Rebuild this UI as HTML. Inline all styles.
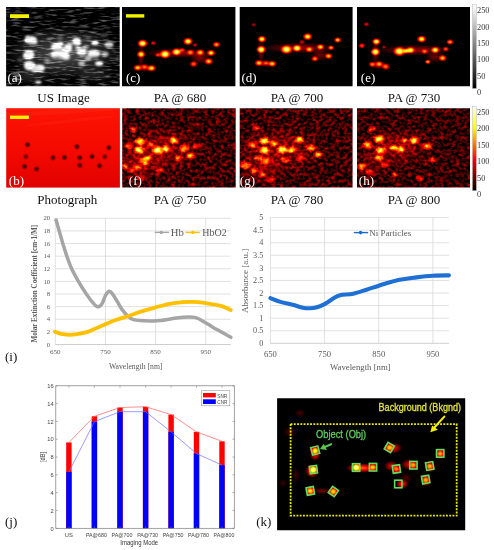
<!DOCTYPE html><html><head><meta charset="utf-8"><style>html,body{margin:0;padding:0;background:#fff;width:494px;height:550px;overflow:hidden;position:relative}</style></head><body><svg width="494" height="550" viewBox="0 0 494 550" style="position:absolute;left:0;top:0">
<defs>
<filter id="hotc" x="0" y="0" width="100%" height="100%" color-interpolation-filters="sRGB">
<feGaussianBlur in="SourceGraphic" stdDeviation="0.7" result="bl"/>
<feComponentTransfer><feFuncR type="table" tableValues="0 0.333 0.667 1 1 1 1 1 1"/><feFuncG type="table" tableValues="0 0 0 0 0.333 0.667 1 1 1"/><feFuncB type="table" tableValues="0 0 0 0 0 0 0 0.5 1"/><feFuncA type="linear" slope="0" intercept="1"/></feComponentTransfer>
</filter>
<filter id="hotk" x="0" y="0" width="100%" height="100%" color-interpolation-filters="sRGB">
<feGaussianBlur in="SourceGraphic" stdDeviation="0.7" result="bl"/>
<feComponentTransfer><feFuncR type="table" tableValues="0 0.333 0.667 1 1 1 1 1 1"/><feFuncG type="table" tableValues="0 0 0 0 0.333 0.667 1 1 1"/><feFuncB type="table" tableValues="0 0 0 0 0 0 0 0.5 1"/><feFuncA type="linear" slope="0" intercept="1"/></feComponentTransfer>
</filter>
<filter id="hotf" x="0" y="0" width="100%" height="100%" color-interpolation-filters="sRGB">
<feGaussianBlur in="SourceGraphic" stdDeviation="0.7" result="bl"/>
<feTurbulence type="fractalNoise" baseFrequency="0.25 0.3" numOctaves="2" seed="3" result="tn0"/>
<feGaussianBlur in="tn0" stdDeviation="0.5" result="tn"/>
<feColorMatrix in="tn" type="matrix" values="0.62 0 0 0 -0.225  0.62 0 0 0 -0.225  0.62 0 0 0 -0.225  0 0 0 0 1" result="nz"/>
<feComposite in="bl" in2="nz" operator="arithmetic" k2="1" k3="1" result="bl"/>
<feComponentTransfer><feFuncR type="table" tableValues="0 0.333 0.667 1 1 1 1 1 1"/><feFuncG type="table" tableValues="0 0 0 0 0.333 0.667 1 1 1"/><feFuncB type="table" tableValues="0 0 0 0 0 0 0 0.5 1"/><feFuncA type="linear" slope="0" intercept="1"/></feComponentTransfer>
</filter>
<filter id="hotg" x="0" y="0" width="100%" height="100%" color-interpolation-filters="sRGB">
<feGaussianBlur in="SourceGraphic" stdDeviation="0.7" result="bl"/>
<feTurbulence type="fractalNoise" baseFrequency="0.25 0.3" numOctaves="2" seed="5" result="tn0"/>
<feGaussianBlur in="tn0" stdDeviation="0.5" result="tn"/>
<feColorMatrix in="tn" type="matrix" values="0.62 0 0 0 -0.225  0.62 0 0 0 -0.225  0.62 0 0 0 -0.225  0 0 0 0 1" result="nz"/>
<feComposite in="bl" in2="nz" operator="arithmetic" k2="1" k3="1" result="bl"/>
<feComponentTransfer><feFuncR type="table" tableValues="0 0.333 0.667 1 1 1 1 1 1"/><feFuncG type="table" tableValues="0 0 0 0 0.333 0.667 1 1 1"/><feFuncB type="table" tableValues="0 0 0 0 0 0 0 0.5 1"/><feFuncA type="linear" slope="0" intercept="1"/></feComponentTransfer>
</filter>
<filter id="hoth" x="0" y="0" width="100%" height="100%" color-interpolation-filters="sRGB">
<feGaussianBlur in="SourceGraphic" stdDeviation="0.7" result="bl"/>
<feTurbulence type="fractalNoise" baseFrequency="0.25 0.3" numOctaves="2" seed="7" result="tn0"/>
<feGaussianBlur in="tn0" stdDeviation="0.5" result="tn"/>
<feColorMatrix in="tn" type="matrix" values="0.62 0 0 0 -0.235  0.62 0 0 0 -0.235  0.62 0 0 0 -0.235  0 0 0 0 1" result="nz"/>
<feComposite in="bl" in2="nz" operator="arithmetic" k2="1" k3="1" result="bl"/>
<feComponentTransfer><feFuncR type="table" tableValues="0 0.333 0.667 1 1 1 1 1 1"/><feFuncG type="table" tableValues="0 0 0 0 0.333 0.667 1 1 1"/><feFuncB type="table" tableValues="0 0 0 0 0 0 0 0.5 1"/><feFuncA type="linear" slope="0" intercept="1"/></feComponentTransfer>
</filter>
<filter id="usf" x="0" y="0" width="100%" height="100%" color-interpolation-filters="sRGB">
<feGaussianBlur in="SourceGraphic" stdDeviation="1.0" result="bl"/>
<feTurbulence type="fractalNoise" baseFrequency="0.09 0.42" numOctaves="2" seed="11" result="tn"/>
<feColorMatrix in="tn" type="matrix" values="1.2 0 0 0 -0.6  1.2 0 0 0 -0.6  1.2 0 0 0 -0.6  0 0 0 0 1" result="nz"/>
<feComposite in="bl" in2="nz" operator="arithmetic" k2="1" k3="1"/>
<feComponentTransfer><feFuncA type="linear" slope="0" intercept="1"/></feComponentTransfer>
</filter>
<filter id="blur1" x="-50%" y="-50%" width="200%" height="200%"><feGaussianBlur stdDeviation="0.9"/></filter>
<linearGradient id="gcb" x1="0" y1="0" x2="0" y2="1"><stop offset="0" stop-color="#fff"/><stop offset="1" stop-color="#000"/></linearGradient>
<linearGradient id="hcb" x1="0" y1="1" x2="0" y2="0"><stop offset="0" stop-color="#000"/><stop offset="0.375" stop-color="#f00"/><stop offset="0.75" stop-color="#ff0"/><stop offset="1" stop-color="#fff"/></linearGradient>
<linearGradient id="photo" x1="0" y1="0" x2="0" y2="1"><stop offset="0" stop-color="#fc1404"/><stop offset="0.5" stop-color="#f50a00"/><stop offset="1" stop-color="#e00200"/></linearGradient>
<radialGradient id="dot"><stop offset="0" stop-color="#300000" stop-opacity="0.95"/><stop offset="0.35" stop-color="#3c0000" stop-opacity="0.85"/><stop offset="0.7" stop-color="#800000" stop-opacity="0.4"/><stop offset="1" stop-color="#c00000" stop-opacity="0"/></radialGradient>
<clipPath id="cpa"><rect x="6.1" y="7.0" width="113.6" height="79.3"/></clipPath>
<clipPath id="cpc"><rect x="122.0" y="7.0" width="113.4" height="79.3"/></clipPath>
<clipPath id="cpd"><rect x="239.7" y="7.0" width="112.9" height="79.3"/></clipPath>
<clipPath id="cpe"><rect x="357.0" y="7.0" width="113.0" height="79.3"/></clipPath>
<clipPath id="cpb"><rect x="6.2" y="108.2" width="113.7" height="79.4"/></clipPath>
<clipPath id="cpf"><rect x="122.2" y="108.2" width="113.5" height="79.4"/></clipPath>
<clipPath id="cpg"><rect x="239.7" y="108.2" width="112.9" height="79.4"/></clipPath>
<clipPath id="cph"><rect x="357.0" y="108.2" width="113.0" height="79.4"/></clipPath>
<radialGradient id="gb"><stop offset="0" stop-color="#fff" stop-opacity="1"/><stop offset="0.2" stop-color="#fff" stop-opacity="0.923"/><stop offset="0.4" stop-color="#fff" stop-opacity="0.726"/><stop offset="0.6" stop-color="#fff" stop-opacity="0.487"/><stop offset="0.8" stop-color="#fff" stop-opacity="0.278"/><stop offset="1" stop-color="#fff" stop-opacity="0"/></radialGradient>
<clipPath id="cpk"><rect x="277.1" y="398.3" width="188.1" height="131.9"/></clipPath>
</defs>
<rect width="494" height="550" fill="#fff"/>
<g clip-path="url(#cpa)"><g filter="url(#usf)"><rect x="6.1" y="7.0" width="113.6" height="79.3" fill="#000"/>
<ellipse cx="65" cy="53" rx="58" ry="26" fill="url(#gb)" fill-opacity="0.28"/>
<ellipse cx="30" cy="75" rx="20" ry="10" fill="url(#gb)" fill-opacity="0.15"/>
<ellipse cx="95" cy="75" rx="20" ry="8" fill="url(#gb)" fill-opacity="0.12"/>
<ellipse cx="31" cy="40" rx="6" ry="4" fill="#fff" fill-opacity="1.0"/>
<ellipse cx="28" cy="38" rx="3" ry="2.5" fill="#fff" fill-opacity="1.0"/>
<ellipse cx="34" cy="42" rx="3.5" ry="2.5" fill="#fff" fill-opacity="0.9"/>
<ellipse cx="29" cy="54.7" rx="5.5" ry="4.5" fill="#fff" fill-opacity="1.0"/>
<ellipse cx="26" cy="56" rx="3" ry="3" fill="#fff" fill-opacity="0.9"/>
<ellipse cx="30" cy="66" rx="6" ry="4.5" fill="#fff" fill-opacity="0.95"/>
<ellipse cx="40" cy="68" rx="5" ry="3.5" fill="#fff" fill-opacity="1.0"/>
<ellipse cx="35" cy="69" rx="4" ry="3" fill="#fff" fill-opacity="0.9"/>
<ellipse cx="27" cy="64" rx="3" ry="2.5" fill="#fff" fill-opacity="0.8"/>
<ellipse cx="56" cy="47" rx="5" ry="4" fill="#fff" fill-opacity="1.0"/>
<ellipse cx="62" cy="53" rx="7" ry="6" fill="#fff" fill-opacity="1.0"/>
<ellipse cx="55" cy="55" rx="4" ry="3.5" fill="#fff" fill-opacity="0.95"/>
<ellipse cx="68" cy="48" rx="4" ry="4" fill="#fff" fill-opacity="1.0"/>
<ellipse cx="66" cy="57" rx="4" ry="3" fill="#fff" fill-opacity="0.9"/>
<ellipse cx="60" cy="44" rx="3" ry="2.5" fill="#fff" fill-opacity="0.8"/>
<ellipse cx="76.7" cy="41.4" rx="4.2" ry="3.8" fill="#fff" fill-opacity="1.0"/>
<ellipse cx="81.7" cy="52" rx="5" ry="4" fill="#fff" fill-opacity="0.9"/>
<ellipse cx="78" cy="48" rx="3" ry="2" fill="#fff" fill-opacity="0.7"/>
<ellipse cx="94" cy="53.6" rx="6.5" ry="3.8" fill="#fff" fill-opacity="1.0"/>
<ellipse cx="95" cy="43" rx="3.5" ry="2.2" fill="#fff" fill-opacity="1.0"/>
<ellipse cx="109" cy="44.7" rx="4.5" ry="3" fill="#fff" fill-opacity="0.75"/>
<ellipse cx="99" cy="63.6" rx="4" ry="2.4" fill="#fff" fill-opacity="1.0"/>
<ellipse cx="81.7" cy="63.6" rx="3.5" ry="2.5" fill="#fff" fill-opacity="0.7"/>
<ellipse cx="105" cy="54" rx="3.5" ry="2.5" fill="#fff" fill-opacity="0.7"/>
<ellipse cx="88" cy="58" rx="3.5" ry="2.5" fill="#fff" fill-opacity="0.65"/>
<ellipse cx="70" cy="44" rx="3" ry="2" fill="#fff" fill-opacity="0.6"/>
<ellipse cx="86" cy="47" rx="3" ry="2" fill="#fff" fill-opacity="0.5"/>
<ellipse cx="38.2" cy="82" rx="3" ry="1.8" fill="#fff" fill-opacity="0.7"/>
<ellipse cx="47" cy="60" rx="3" ry="2" fill="#fff" fill-opacity="0.35"/>
<ellipse cx="20" cy="60" rx="3" ry="1.5" fill="#fff" fill-opacity="0.3"/>
<ellipse cx="60" cy="38" rx="3" ry="1.5" fill="#fff" fill-opacity="0.35"/>
<ellipse cx="88" cy="38" rx="3" ry="1.5" fill="#fff" fill-opacity="0.3"/>
<ellipse cx="104" cy="35" rx="4" ry="1.5" fill="#fff" fill-opacity="0.3"/>
<ellipse cx="60" cy="50.2" rx="9" ry="0.7" fill="#000" fill-opacity="0.55"/>
<ellipse cx="58" cy="56.8" rx="8" ry="0.6" fill="#000" fill-opacity="0.5"/>
<ellipse cx="64" cy="45.5" rx="6" ry="0.5" fill="#000" fill-opacity="0.45"/>
<ellipse cx="32" cy="41.5" rx="5" ry="0.5" fill="#000" fill-opacity="0.4"/>
<ellipse cx="29" cy="38" rx="4" ry="0.4" fill="#000" fill-opacity="0.35"/>
<ellipse cx="35" cy="68.5" rx="7" ry="0.5" fill="#000" fill-opacity="0.4"/>
<ellipse cx="38" cy="64.5" rx="5" ry="0.4" fill="#000" fill-opacity="0.35"/>
<ellipse cx="28" cy="53" rx="4" ry="0.5" fill="#000" fill-opacity="0.35"/>
<ellipse cx="94" cy="56" rx="6" ry="0.5" fill="#000" fill-opacity="0.4"/>
<ellipse cx="80" cy="54.5" rx="5" ry="0.5" fill="#000" fill-opacity="0.35"/>
<ellipse cx="100" cy="51.5" rx="4" ry="0.4" fill="#000" fill-opacity="0.3"/>
</g></g>
<g clip-path="url(#cpc)"><g filter="url(#hotc)"><rect x="122.0" y="7.0" width="113.4" height="79.3" fill="#000"/>
<ellipse cx="141" cy="56" rx="3.5" ry="13" fill="url(#gb)" fill-opacity="0.17"/>
<ellipse cx="180" cy="53" rx="36" ry="5" fill="url(#gb)" fill-opacity="0.2"/>
<ellipse cx="145" cy="68" rx="10" ry="3.5" fill="url(#gb)" fill-opacity="0.3"/>
<ellipse cx="200" cy="58" rx="10" ry="6" fill="url(#gb)" fill-opacity="0.18"/>
<ellipse cx="142.6" cy="43.4" rx="5.54" ry="4.28" fill="url(#gb)" fill-opacity="0.93"/>
<ellipse cx="153.3" cy="43.1" rx="2.90" ry="2.24" fill="url(#gb)" fill-opacity="0.42"/>
<ellipse cx="141.1" cy="54.3" rx="4.75" ry="3.67" fill="url(#gb)" fill-opacity="0.79"/>
<ellipse cx="137.5" cy="67.7" rx="4.49" ry="3.47" fill="url(#gb)" fill-opacity="0.70"/>
<ellipse cx="151.6" cy="68.2" rx="4.75" ry="3.67" fill="url(#gb)" fill-opacity="0.74"/>
<ellipse cx="144.5" cy="66.5" rx="3.96" ry="3.06" fill="url(#gb)" fill-opacity="0.42"/>
<ellipse cx="165" cy="54.3" rx="6.07" ry="4.69" fill="url(#gb)" fill-opacity="0.93"/>
<ellipse cx="176.6" cy="51.9" rx="5.28" ry="4.08" fill="url(#gb)" fill-opacity="0.88"/>
<ellipse cx="188" cy="41.4" rx="5.28" ry="4.08" fill="url(#gb)" fill-opacity="0.88"/>
<ellipse cx="190.4" cy="52.4" rx="4.22" ry="3.26" fill="url(#gb)" fill-opacity="0.56"/>
<ellipse cx="193.6" cy="64" rx="4.22" ry="3.26" fill="url(#gb)" fill-opacity="0.56"/>
<ellipse cx="200.2" cy="52.4" rx="4.49" ry="3.47" fill="url(#gb)" fill-opacity="0.70"/>
<ellipse cx="211" cy="52.9" rx="4.49" ry="3.47" fill="url(#gb)" fill-opacity="0.79"/>
<ellipse cx="208.7" cy="61.4" rx="4.75" ry="3.67" fill="url(#gb)" fill-opacity="0.70"/>
<ellipse cx="216.4" cy="44.6" rx="4.22" ry="3.26" fill="url(#gb)" fill-opacity="0.65"/>
<ellipse cx="195" cy="45" rx="2.90" ry="2.24" fill="url(#gb)" fill-opacity="0.33"/>
<ellipse cx="182" cy="50" rx="3.30" ry="2.55" fill="url(#gb)" fill-opacity="0.47"/>
<ellipse cx="158" cy="55" rx="3.30" ry="2.55" fill="url(#gb)" fill-opacity="0.47"/>
</g></g>
<g clip-path="url(#cpd)"><g filter="url(#hotc)"><rect x="239.7" y="7.0" width="112.9" height="79.3" fill="#000"/>
<ellipse cx="261" cy="51" rx="3.5" ry="14" fill="url(#gb)" fill-opacity="0.17"/>
<ellipse cx="300" cy="48" rx="38" ry="5.5" fill="url(#gb)" fill-opacity="0.2"/>
<ellipse cx="266" cy="63.5" rx="9" ry="3.5" fill="url(#gb)" fill-opacity="0.3"/>
<ellipse cx="320" cy="55" rx="10" ry="6" fill="url(#gb)" fill-opacity="0.15"/>
<ellipse cx="261.9" cy="39.1" rx="4.75" ry="3.67" fill="url(#gb)" fill-opacity="0.84"/>
<ellipse cx="261.2" cy="49.5" rx="5.28" ry="4.08" fill="url(#gb)" fill-opacity="0.93"/>
<ellipse cx="258.7" cy="63" rx="4.49" ry="3.47" fill="url(#gb)" fill-opacity="0.70"/>
<ellipse cx="272.3" cy="63.8" rx="4.49" ry="3.47" fill="url(#gb)" fill-opacity="0.70"/>
<ellipse cx="266" cy="63" rx="3.30" ry="2.55" fill="url(#gb)" fill-opacity="0.37"/>
<ellipse cx="286.4" cy="49.5" rx="6.34" ry="4.90" fill="url(#gb)" fill-opacity="0.93"/>
<ellipse cx="297" cy="48.2" rx="5.02" ry="3.88" fill="url(#gb)" fill-opacity="0.88"/>
<ellipse cx="307.6" cy="36.6" rx="5.02" ry="3.88" fill="url(#gb)" fill-opacity="0.84"/>
<ellipse cx="309.3" cy="49.5" rx="4.22" ry="3.26" fill="url(#gb)" fill-opacity="0.65"/>
<ellipse cx="314.8" cy="58.8" rx="3.96" ry="3.06" fill="url(#gb)" fill-opacity="0.60"/>
<ellipse cx="320.4" cy="47" rx="4.22" ry="3.26" fill="url(#gb)" fill-opacity="0.74"/>
<ellipse cx="328.6" cy="56.1" rx="4.22" ry="3.26" fill="url(#gb)" fill-opacity="0.70"/>
<ellipse cx="331" cy="47.7" rx="3.43" ry="2.65" fill="url(#gb)" fill-opacity="0.65"/>
<ellipse cx="337.7" cy="40" rx="3.96" ry="3.06" fill="url(#gb)" fill-opacity="0.74"/>
<ellipse cx="253.8" cy="24.8" rx="2.90" ry="2.24" fill="url(#gb)" fill-opacity="0.28"/>
<ellipse cx="302" cy="42" rx="3.30" ry="2.55" fill="url(#gb)" fill-opacity="0.33"/>
</g></g>
<g clip-path="url(#cpe)"><g filter="url(#hotc)"><rect x="357.0" y="7.0" width="113.0" height="79.3" fill="#000"/>
<ellipse cx="375.5" cy="52" rx="4" ry="14" fill="url(#gb)" fill-opacity="0.17"/>
<ellipse cx="415" cy="50" rx="38" ry="5.5" fill="url(#gb)" fill-opacity="0.2"/>
<ellipse cx="379" cy="65" rx="9" ry="4" fill="url(#gb)" fill-opacity="0.3"/>
<ellipse cx="435" cy="57" rx="10" ry="6" fill="url(#gb)" fill-opacity="0.15"/>
<ellipse cx="366.5" cy="24.3" rx="3.17" ry="2.45" fill="url(#gb)" fill-opacity="0.37"/>
<ellipse cx="361.9" cy="45.7" rx="3.70" ry="2.86" fill="url(#gb)" fill-opacity="0.51"/>
<ellipse cx="376.4" cy="41.6" rx="4.75" ry="3.67" fill="url(#gb)" fill-opacity="0.88"/>
<ellipse cx="375.4" cy="51.9" rx="5.28" ry="4.08" fill="url(#gb)" fill-opacity="0.93"/>
<ellipse cx="372.2" cy="64.3" rx="3.96" ry="3.06" fill="url(#gb)" fill-opacity="0.56"/>
<ellipse cx="379.1" cy="63.8" rx="3.96" ry="3.06" fill="url(#gb)" fill-opacity="0.56"/>
<ellipse cx="385.8" cy="66.7" rx="4.49" ry="3.47" fill="url(#gb)" fill-opacity="0.56"/>
<ellipse cx="399.4" cy="51.4" rx="6.60" ry="5.10" fill="url(#gb)" fill-opacity="0.93"/>
<ellipse cx="406" cy="51" rx="3.96" ry="3.06" fill="url(#gb)" fill-opacity="0.74"/>
<ellipse cx="410.5" cy="50.2" rx="4.75" ry="3.67" fill="url(#gb)" fill-opacity="0.84"/>
<ellipse cx="421.6" cy="39.1" rx="5.02" ry="3.88" fill="url(#gb)" fill-opacity="0.84"/>
<ellipse cx="424.6" cy="51.4" rx="3.70" ry="2.86" fill="url(#gb)" fill-opacity="0.51"/>
<ellipse cx="427.8" cy="61.8" rx="3.17" ry="2.45" fill="url(#gb)" fill-opacity="0.70"/>
<ellipse cx="435.2" cy="50" rx="4.75" ry="3.67" fill="url(#gb)" fill-opacity="0.84"/>
<ellipse cx="442.6" cy="58.1" rx="4.49" ry="3.47" fill="url(#gb)" fill-opacity="0.70"/>
<ellipse cx="445.8" cy="49" rx="3.43" ry="2.65" fill="url(#gb)" fill-opacity="0.51"/>
<ellipse cx="450" cy="42" rx="3.96" ry="3.06" fill="url(#gb)" fill-opacity="0.65"/>
<ellipse cx="384" cy="47" rx="2.64" ry="2.04" fill="url(#gb)" fill-opacity="0.28"/>
</g></g>
<g clip-path="url(#cpf)"><g filter="url(#hotf)"><rect x="122.2" y="108.2" width="113.5" height="79.4" fill="#000"/>
<ellipse cx="160" cy="150" rx="45" ry="25" fill="url(#gb)" fill-opacity="0.13"/>
<ellipse cx="140" cy="165" rx="25" ry="18" fill="url(#gb)" fill-opacity="0.1"/>
<ellipse cx="139.9" cy="141.6" rx="6.46" ry="4.75" fill="url(#gb)" fill-opacity="0.72"/>
<ellipse cx="139" cy="150.1" rx="6.46" ry="4.75" fill="url(#gb)" fill-opacity="0.76"/>
<ellipse cx="128.5" cy="145.8" rx="5.44" ry="4.00" fill="url(#gb)" fill-opacity="0.48"/>
<ellipse cx="133.4" cy="129.5" rx="5.10" ry="3.75" fill="url(#gb)" fill-opacity="0.40"/>
<ellipse cx="157.6" cy="150.1" rx="7.14" ry="5.25" fill="url(#gb)" fill-opacity="0.76"/>
<ellipse cx="166.1" cy="148.9" rx="6.12" ry="4.50" fill="url(#gb)" fill-opacity="0.68"/>
<ellipse cx="173.4" cy="140.4" rx="6.12" ry="4.50" fill="url(#gb)" fill-opacity="0.64"/>
<ellipse cx="184.4" cy="148.4" rx="6.12" ry="4.50" fill="url(#gb)" fill-opacity="0.60"/>
<ellipse cx="190.4" cy="155.7" rx="5.78" ry="4.25" fill="url(#gb)" fill-opacity="0.56"/>
<ellipse cx="144.3" cy="161" rx="6.80" ry="5.00" fill="url(#gb)" fill-opacity="0.56"/>
<ellipse cx="137" cy="167.2" rx="5.78" ry="4.25" fill="url(#gb)" fill-opacity="0.44"/>
<ellipse cx="124.9" cy="166" rx="5.10" ry="3.75" fill="url(#gb)" fill-opacity="0.40"/>
<ellipse cx="131" cy="170" rx="5.10" ry="3.75" fill="url(#gb)" fill-opacity="0.36"/>
<ellipse cx="150" cy="145" rx="5.10" ry="3.75" fill="url(#gb)" fill-opacity="0.40"/>
<ellipse cx="148" cy="158" rx="5.10" ry="3.75" fill="url(#gb)" fill-opacity="0.40"/>
<ellipse cx="197" cy="146" rx="5.10" ry="3.75" fill="url(#gb)" fill-opacity="0.36"/>
<ellipse cx="178" cy="158" rx="5.10" ry="3.75" fill="url(#gb)" fill-opacity="0.36"/>
<ellipse cx="160" cy="170" rx="5.10" ry="3.75" fill="url(#gb)" fill-opacity="0.32"/>
<ellipse cx="142" cy="178" rx="5.10" ry="3.75" fill="url(#gb)" fill-opacity="0.32"/>
</g></g>
<g clip-path="url(#cpg)"><g filter="url(#hotg)"><rect x="239.7" y="108.2" width="112.9" height="79.4" fill="#000"/>
<ellipse cx="280" cy="150" rx="45" ry="25" fill="url(#gb)" fill-opacity="0.13"/>
<ellipse cx="260" cy="168" rx="25" ry="15" fill="url(#gb)" fill-opacity="0.1"/>
<ellipse cx="256.2" cy="128.2" rx="4.42" ry="3.25" fill="url(#gb)" fill-opacity="0.40"/>
<ellipse cx="264.4" cy="141" rx="6.46" ry="4.75" fill="url(#gb)" fill-opacity="0.76"/>
<ellipse cx="252.5" cy="144.8" rx="5.78" ry="4.25" fill="url(#gb)" fill-opacity="0.56"/>
<ellipse cx="264.4" cy="150.4" rx="6.46" ry="4.75" fill="url(#gb)" fill-opacity="0.76"/>
<ellipse cx="273.5" cy="143.5" rx="5.44" ry="4.00" fill="url(#gb)" fill-opacity="0.56"/>
<ellipse cx="282.2" cy="149.7" rx="6.80" ry="5.00" fill="url(#gb)" fill-opacity="0.76"/>
<ellipse cx="292" cy="149.7" rx="5.78" ry="4.25" fill="url(#gb)" fill-opacity="0.64"/>
<ellipse cx="299.4" cy="139.8" rx="5.78" ry="4.25" fill="url(#gb)" fill-opacity="0.68"/>
<ellipse cx="310.6" cy="148" rx="5.78" ry="4.25" fill="url(#gb)" fill-opacity="0.60"/>
<ellipse cx="318" cy="154.6" rx="5.78" ry="4.25" fill="url(#gb)" fill-opacity="0.56"/>
<ellipse cx="266.1" cy="160.8" rx="6.12" ry="4.50" fill="url(#gb)" fill-opacity="0.56"/>
<ellipse cx="245.1" cy="165.2" rx="6.12" ry="4.50" fill="url(#gb)" fill-opacity="0.56"/>
<ellipse cx="253.8" cy="170.7" rx="5.78" ry="4.25" fill="url(#gb)" fill-opacity="0.36"/>
<ellipse cx="271" cy="179.3" rx="5.78" ry="4.25" fill="url(#gb)" fill-opacity="0.36"/>
<ellipse cx="258" cy="158" rx="5.10" ry="3.75" fill="url(#gb)" fill-opacity="0.44"/>
<ellipse cx="285" cy="160" rx="5.10" ry="3.75" fill="url(#gb)" fill-opacity="0.36"/>
<ellipse cx="300" cy="158" rx="5.10" ry="3.75" fill="url(#gb)" fill-opacity="0.40"/>
<ellipse cx="262" cy="175" rx="5.10" ry="3.75" fill="url(#gb)" fill-opacity="0.40"/>
</g></g>
<g clip-path="url(#cph)"><g filter="url(#hoth)"><rect x="357.0" y="108.2" width="113.0" height="79.4" fill="#000"/>
<ellipse cx="395" cy="148" rx="40" ry="22" fill="url(#gb)" fill-opacity="0.13"/>
<ellipse cx="372" cy="165" rx="20" ry="14" fill="url(#gb)" fill-opacity="0.08"/>
<ellipse cx="371.9" cy="128.8" rx="4.76" ry="3.50" fill="url(#gb)" fill-opacity="0.44"/>
<ellipse cx="379.2" cy="139" rx="6.80" ry="5.00" fill="url(#gb)" fill-opacity="0.76"/>
<ellipse cx="367.5" cy="144.8" rx="6.12" ry="4.50" fill="url(#gb)" fill-opacity="0.64"/>
<ellipse cx="380.6" cy="150.6" rx="6.46" ry="4.75" fill="url(#gb)" fill-opacity="0.72"/>
<ellipse cx="393.7" cy="147.7" rx="5.78" ry="4.25" fill="url(#gb)" fill-opacity="0.60"/>
<ellipse cx="401" cy="149.2" rx="5.78" ry="4.25" fill="url(#gb)" fill-opacity="0.64"/>
<ellipse cx="403.9" cy="140.4" rx="4.76" ry="3.50" fill="url(#gb)" fill-opacity="0.48"/>
<ellipse cx="414.1" cy="140.4" rx="6.46" ry="4.75" fill="url(#gb)" fill-opacity="0.72"/>
<ellipse cx="427.3" cy="146.3" rx="5.78" ry="4.25" fill="url(#gb)" fill-opacity="0.60"/>
<ellipse cx="379.2" cy="158" rx="5.78" ry="4.25" fill="url(#gb)" fill-opacity="0.56"/>
<ellipse cx="361.7" cy="166.7" rx="5.78" ry="4.25" fill="url(#gb)" fill-opacity="0.52"/>
<ellipse cx="369" cy="172" rx="5.10" ry="3.75" fill="url(#gb)" fill-opacity="0.40"/>
<ellipse cx="385" cy="165" rx="5.10" ry="3.75" fill="url(#gb)" fill-opacity="0.40"/>
<ellipse cx="432" cy="160" rx="4.76" ry="3.50" fill="url(#gb)" fill-opacity="0.40"/>
<ellipse cx="420" cy="178" rx="4.76" ry="3.50" fill="url(#gb)" fill-opacity="0.36"/>
<ellipse cx="395" cy="175" rx="4.76" ry="3.50" fill="url(#gb)" fill-opacity="0.36"/>
</g></g>
<rect x="6.2" y="108.2" width="113.7" height="79.4" fill="url(#photo)"/>
<g clip-path="url(#cpb)" opacity="0.3"><ellipse cx="60" cy="112" rx="60" ry="2.2" fill="#ff6a50" opacity="0.35" transform="rotate(-3 60 112)"/><ellipse cx="70" cy="121" rx="45" ry="1.6" fill="#ff6a50" opacity="0.3" transform="rotate(-6 70 121)"/></g>
<circle cx="27.6" cy="144.7" r="3.7" fill="url(#dot)" opacity="1"/>
<circle cx="25.9" cy="156.7" r="3.7" fill="url(#dot)" opacity="0.75"/>
<circle cx="24.6" cy="166.5" r="3.7" fill="url(#dot)" opacity="1"/>
<circle cx="36.6" cy="169" r="3.7" fill="url(#dot)" opacity="1"/>
<circle cx="53" cy="157.7" r="3.7" fill="url(#dot)" opacity="1"/>
<circle cx="64.5" cy="157.5" r="3.7" fill="url(#dot)" opacity="1"/>
<circle cx="77" cy="146.7" r="3.7" fill="url(#dot)" opacity="1"/>
<circle cx="79.8" cy="157.7" r="3.7" fill="url(#dot)" opacity="1"/>
<circle cx="79.8" cy="165.3" r="3.7" fill="url(#dot)" opacity="1"/>
<circle cx="92.1" cy="156.5" r="3.7" fill="url(#dot)" opacity="1"/>
<circle cx="104.9" cy="156.7" r="3.7" fill="url(#dot)" opacity="0.75"/>
<circle cx="108.9" cy="147.7" r="3.7" fill="url(#dot)" opacity="1"/>
<circle cx="99.6" cy="165.8" r="3.7" fill="url(#dot)" opacity="1"/>
<rect x="10" y="14.2" width="19" height="3.8" fill="#f4f000"/>
<rect x="126" y="14.2" width="18.3" height="3.4" fill="#f4f000"/>
<rect x="10" y="115.6" width="18.9" height="3.4" fill="#f4f000"/>
<text x="7.5" y="82.2" font-family="'Liberation Serif', serif" font-size="13" fill="#fff">(a)</text>
<text x="126.0" y="82.2" font-family="'Liberation Serif', serif" font-size="13" fill="#fff">(c)</text>
<text x="241.4" y="82.2" font-family="'Liberation Serif', serif" font-size="13" fill="#fff">(d)</text>
<text x="360.8" y="82.2" font-family="'Liberation Serif', serif" font-size="13" fill="#fff">(e)</text>
<text x="8.8" y="185.2" font-family="'Liberation Serif', serif" font-size="13" fill="#fff">(b)</text>
<text x="128.8" y="185.2" font-family="'Liberation Serif', serif" font-size="13" fill="#fff">(f)</text>
<text x="239.8" y="184.6" font-family="'Liberation Serif', serif" font-size="13" fill="#fff">(g)</text>
<text x="358.8" y="185.4" font-family="'Liberation Serif', serif" font-size="13" fill="#fff">(h)</text>
<text x="63.5" y="102.2" font-family="'Liberation Serif', serif" font-size="13" fill="#111" text-anchor="middle">US Image</text>
<text x="180" y="102.2" font-family="'Liberation Serif', serif" font-size="13" fill="#111" text-anchor="middle">PA @ 680</text>
<text x="297" y="102.2" font-family="'Liberation Serif', serif" font-size="13" fill="#111" text-anchor="middle">PA @ 700</text>
<text x="414" y="102.2" font-family="'Liberation Serif', serif" font-size="13" fill="#111" text-anchor="middle">PA @ 730</text>
<text x="67.3" y="203.6" font-family="'Liberation Serif', serif" font-size="13" fill="#111" text-anchor="middle">Photograph</text>
<text x="180" y="203.6" font-family="'Liberation Serif', serif" font-size="13" fill="#111" text-anchor="middle">PA @ 750</text>
<text x="297" y="203.6" font-family="'Liberation Serif', serif" font-size="13" fill="#111" text-anchor="middle">PA @ 780</text>
<text x="414" y="203.6" font-family="'Liberation Serif', serif" font-size="13" fill="#111" text-anchor="middle">PA @ 800</text>
<rect x="472.4" y="4.5" width="4" height="84" fill="url(#gcb)" stroke="#bbb" stroke-width="0.5"/>
<rect x="472.4" y="106.3" width="4" height="84.4" fill="url(#hcb)" stroke="#bbb" stroke-width="0.5"/>
<text x="477" y="13.2" font-family="'Liberation Serif', serif" font-size="8.3" fill="#333">250</text>
<text x="477" y="114.7" font-family="'Liberation Serif', serif" font-size="8.3" fill="#333">250</text>
<text x="477" y="29.6" font-family="'Liberation Serif', serif" font-size="8.3" fill="#333">200</text>
<text x="477" y="131.2" font-family="'Liberation Serif', serif" font-size="8.3" fill="#333">200</text>
<text x="477" y="46.0" font-family="'Liberation Serif', serif" font-size="8.3" fill="#333">150</text>
<text x="477" y="147.8" font-family="'Liberation Serif', serif" font-size="8.3" fill="#333">150</text>
<text x="477" y="62.4" font-family="'Liberation Serif', serif" font-size="8.3" fill="#333">100</text>
<text x="477" y="164.4" font-family="'Liberation Serif', serif" font-size="8.3" fill="#333">100</text>
<text x="477" y="78.8" font-family="'Liberation Serif', serif" font-size="8.3" fill="#333">50</text>
<text x="477" y="180.9" font-family="'Liberation Serif', serif" font-size="8.3" fill="#333">50</text>
<text x="477" y="95.2" font-family="'Liberation Serif', serif" font-size="8.3" fill="#333">0</text>
<text x="477" y="197.4" font-family="'Liberation Serif', serif" font-size="8.3" fill="#333">0</text>
<line x1="55.3" y1="331.88" x2="230.8" y2="331.88" stroke="#d9d9d9" stroke-width="0.8"/>
<line x1="55.3" y1="319.26" x2="230.8" y2="319.26" stroke="#d9d9d9" stroke-width="0.8"/>
<line x1="55.3" y1="306.64" x2="230.8" y2="306.64" stroke="#d9d9d9" stroke-width="0.8"/>
<line x1="55.3" y1="294.02" x2="230.8" y2="294.02" stroke="#d9d9d9" stroke-width="0.8"/>
<line x1="55.3" y1="281.40" x2="230.8" y2="281.40" stroke="#d9d9d9" stroke-width="0.8"/>
<line x1="55.3" y1="268.78" x2="230.8" y2="268.78" stroke="#d9d9d9" stroke-width="0.8"/>
<line x1="55.3" y1="256.16" x2="230.8" y2="256.16" stroke="#d9d9d9" stroke-width="0.8"/>
<line x1="55.3" y1="243.54" x2="230.8" y2="243.54" stroke="#d9d9d9" stroke-width="0.8"/>
<line x1="55.3" y1="230.92" x2="230.8" y2="230.92" stroke="#d9d9d9" stroke-width="0.8"/>
<line x1="55.3" y1="218.30" x2="230.8" y2="218.30" stroke="#d9d9d9" stroke-width="0.8"/>
<line x1="55.30" y1="218.3" x2="55.30" y2="344.5" stroke="#d9d9d9" stroke-width="0.8"/>
<line x1="105.44" y1="218.3" x2="105.44" y2="344.5" stroke="#d9d9d9" stroke-width="0.8"/>
<line x1="155.59" y1="218.3" x2="155.59" y2="344.5" stroke="#d9d9d9" stroke-width="0.8"/>
<line x1="205.73" y1="218.3" x2="205.73" y2="344.5" stroke="#d9d9d9" stroke-width="0.8"/>
<line x1="55.3" y1="344.5" x2="230.8" y2="344.5" stroke="#c8c8c8" stroke-width="0.9"/>
<text x="50.2" y="346.60" font-family="'Liberation Serif', serif" font-size="6.7" fill="#595959" text-anchor="end">0</text>
<text x="50.2" y="333.98" font-family="'Liberation Serif', serif" font-size="6.7" fill="#595959" text-anchor="end">2</text>
<text x="50.2" y="321.36" font-family="'Liberation Serif', serif" font-size="6.7" fill="#595959" text-anchor="end">4</text>
<text x="50.2" y="308.74" font-family="'Liberation Serif', serif" font-size="6.7" fill="#595959" text-anchor="end">6</text>
<text x="50.2" y="296.12" font-family="'Liberation Serif', serif" font-size="6.7" fill="#595959" text-anchor="end">8</text>
<text x="50.2" y="283.50" font-family="'Liberation Serif', serif" font-size="6.7" fill="#595959" text-anchor="end">10</text>
<text x="50.2" y="270.88" font-family="'Liberation Serif', serif" font-size="6.7" fill="#595959" text-anchor="end">12</text>
<text x="50.2" y="258.26" font-family="'Liberation Serif', serif" font-size="6.7" fill="#595959" text-anchor="end">14</text>
<text x="50.2" y="245.64" font-family="'Liberation Serif', serif" font-size="6.7" fill="#595959" text-anchor="end">16</text>
<text x="50.2" y="233.02" font-family="'Liberation Serif', serif" font-size="6.7" fill="#595959" text-anchor="end">18</text>
<text x="50.2" y="220.40" font-family="'Liberation Serif', serif" font-size="6.7" fill="#595959" text-anchor="end">20</text>
<text x="55.30" y="354.4" font-family="'Liberation Serif', serif" font-size="7.0" fill="#595959" text-anchor="middle">650</text>
<text x="105.44" y="354.4" font-family="'Liberation Serif', serif" font-size="7.0" fill="#595959" text-anchor="middle">750</text>
<text x="155.59" y="354.4" font-family="'Liberation Serif', serif" font-size="7.0" fill="#595959" text-anchor="middle">850</text>
<text x="205.73" y="354.4" font-family="'Liberation Serif', serif" font-size="7.0" fill="#595959" text-anchor="middle">950</text>
<text x="135.7" y="368.5" font-family="'Liberation Serif', serif" font-size="7.7" fill="#595959" text-anchor="middle" textLength="53.5" lengthAdjust="spacingAndGlyphs">Wavelength [nm]</text>
<text transform="translate(36.9,283.7) rotate(-90)" font-family="'Liberation Serif', serif" font-size="7.5" font-weight="700" fill="#595959" text-anchor="middle" textLength="117.8" lengthAdjust="spacingAndGlyphs">Molar Extinction Coefficient [cm-1/M]</text>
<path d="M56.10,220.00 C56.68,222.05 58.48,228.40 59.60,232.30 C60.72,236.20 61.60,239.43 62.80,243.40 C64.00,247.37 65.32,251.87 66.80,256.10 C68.28,260.33 69.77,264.60 71.70,268.80 C73.63,273.00 75.92,277.03 78.40,281.30 C80.88,285.57 84.27,290.92 86.60,294.40 C88.93,297.88 90.57,300.13 92.40,302.20 C94.23,304.27 96.02,306.50 97.60,306.80 C99.18,307.10 100.58,305.88 101.90,304.00 C103.22,302.12 104.28,297.62 105.50,295.50 C106.72,293.38 107.98,291.50 109.20,291.30 C110.42,291.10 111.38,292.48 112.80,294.30 C114.22,296.12 116.08,299.57 117.70,302.20 C119.32,304.83 120.68,307.67 122.50,310.10 C124.32,312.53 126.78,315.22 128.60,316.80 C130.42,318.38 131.50,318.97 133.40,319.60 C135.30,320.23 137.23,320.38 140.00,320.60 C142.77,320.82 146.63,320.90 150.00,320.90 C153.37,320.90 155.12,321.15 160.20,320.60 C165.28,320.05 174.75,318.13 180.50,317.60 C186.25,317.07 190.32,316.42 194.70,317.40 C199.08,318.38 203.10,321.47 206.80,323.50 C210.50,325.53 212.90,327.30 216.90,329.60 C220.90,331.90 228.48,336.02 230.80,337.30" fill="none" stroke="#a5a5a5" stroke-width="3.5" stroke-linecap="round" stroke-linejoin="round"/>
<path d="M54.90,331.60 C56.20,332.03 59.70,333.68 62.70,334.20 C65.70,334.72 69.08,335.00 72.90,334.70 C76.72,334.40 82.40,333.18 85.60,332.40 C88.80,331.62 88.98,331.28 92.10,330.00 C95.22,328.72 100.25,326.40 104.30,324.70 C108.35,323.00 112.35,321.25 116.40,319.80 C120.45,318.35 124.67,317.32 128.60,316.00 C132.53,314.68 135.47,313.35 140.00,311.90 C144.53,310.45 150.40,308.73 155.80,307.30 C161.20,305.87 166.27,304.20 172.40,303.30 C178.53,302.40 186.87,301.90 192.60,301.90 C198.33,301.90 202.07,302.63 206.80,303.30 C211.53,303.97 217.00,304.78 221.00,305.90 C225.00,307.02 229.17,309.32 230.80,310.00" fill="none" stroke="#ffc000" stroke-width="3.8" stroke-linecap="round" stroke-linejoin="round"/>
<line x1="154.7" y1="232.4" x2="169.1" y2="232.4" stroke="#a5a5a5" stroke-width="1.4"/><circle cx="161.3" cy="232.4" r="1.7" fill="#a5a5a5"/>
<text x="170.8" y="235.6" font-family="'Liberation Serif', serif" font-size="9.6" fill="#595959" textLength="13.0" lengthAdjust="spacingAndGlyphs">Hb</text>
<line x1="185.4" y1="232.4" x2="199.8" y2="232.4" stroke="#ffc000" stroke-width="1.4"/><circle cx="192.9" cy="232.4" r="1.7" fill="#ffc000"/>
<text x="202.3" y="235.6" font-family="'Liberation Serif', serif" font-size="9.6" fill="#595959" textLength="24.4" lengthAdjust="spacingAndGlyphs">HbO2</text>
<text x="5" y="360.5" font-family="'Liberation Serif', serif" font-size="13" fill="#111">(i)</text>
<line x1="270.4" y1="330.73" x2="448.9" y2="330.73" stroke="#d9d9d9" stroke-width="0.8"/>
<line x1="270.4" y1="318.16" x2="448.9" y2="318.16" stroke="#d9d9d9" stroke-width="0.8"/>
<line x1="270.4" y1="305.59" x2="448.9" y2="305.59" stroke="#d9d9d9" stroke-width="0.8"/>
<line x1="270.4" y1="293.02" x2="448.9" y2="293.02" stroke="#d9d9d9" stroke-width="0.8"/>
<line x1="270.4" y1="280.45" x2="448.9" y2="280.45" stroke="#d9d9d9" stroke-width="0.8"/>
<line x1="270.4" y1="267.88" x2="448.9" y2="267.88" stroke="#d9d9d9" stroke-width="0.8"/>
<line x1="270.4" y1="255.31" x2="448.9" y2="255.31" stroke="#d9d9d9" stroke-width="0.8"/>
<line x1="270.4" y1="242.74" x2="448.9" y2="242.74" stroke="#d9d9d9" stroke-width="0.8"/>
<line x1="270.4" y1="230.17" x2="448.9" y2="230.17" stroke="#d9d9d9" stroke-width="0.8"/>
<line x1="270.4" y1="217.60" x2="448.9" y2="217.60" stroke="#d9d9d9" stroke-width="0.8"/>
<line x1="270.40" y1="217.6" x2="270.40" y2="343.3" stroke="#d9d9d9" stroke-width="0.8"/>
<line x1="324.57" y1="217.6" x2="324.57" y2="343.3" stroke="#d9d9d9" stroke-width="0.8"/>
<line x1="378.74" y1="217.6" x2="378.74" y2="343.3" stroke="#d9d9d9" stroke-width="0.8"/>
<line x1="432.91" y1="217.6" x2="432.91" y2="343.3" stroke="#d9d9d9" stroke-width="0.8"/>
<line x1="270.4" y1="343.3" x2="448.9" y2="343.3" stroke="#c8c8c8" stroke-width="0.9"/>
<text x="263.3" y="346.00" font-family="'Liberation Serif', serif" font-size="8.2" fill="#595959" text-anchor="end">0</text>
<text x="263.3" y="333.43" font-family="'Liberation Serif', serif" font-size="8.2" fill="#595959" text-anchor="end">0.5</text>
<text x="263.3" y="320.86" font-family="'Liberation Serif', serif" font-size="8.2" fill="#595959" text-anchor="end">1</text>
<text x="263.3" y="308.29" font-family="'Liberation Serif', serif" font-size="8.2" fill="#595959" text-anchor="end">1.5</text>
<text x="263.3" y="295.72" font-family="'Liberation Serif', serif" font-size="8.2" fill="#595959" text-anchor="end">2</text>
<text x="263.3" y="283.15" font-family="'Liberation Serif', serif" font-size="8.2" fill="#595959" text-anchor="end">2.5</text>
<text x="263.3" y="270.58" font-family="'Liberation Serif', serif" font-size="8.2" fill="#595959" text-anchor="end">3</text>
<text x="263.3" y="258.01" font-family="'Liberation Serif', serif" font-size="8.2" fill="#595959" text-anchor="end">3.5</text>
<text x="263.3" y="245.44" font-family="'Liberation Serif', serif" font-size="8.2" fill="#595959" text-anchor="end">4</text>
<text x="263.3" y="232.87" font-family="'Liberation Serif', serif" font-size="8.2" fill="#595959" text-anchor="end">4.5</text>
<text x="263.3" y="220.30" font-family="'Liberation Serif', serif" font-size="8.2" fill="#595959" text-anchor="end">5</text>
<text x="270.40" y="357.4" font-family="'Liberation Serif', serif" font-size="8.6" fill="#595959" text-anchor="middle">650</text>
<text x="324.57" y="357.4" font-family="'Liberation Serif', serif" font-size="8.6" fill="#595959" text-anchor="middle">750</text>
<text x="378.74" y="357.4" font-family="'Liberation Serif', serif" font-size="8.6" fill="#595959" text-anchor="middle">850</text>
<text x="432.91" y="357.4" font-family="'Liberation Serif', serif" font-size="8.6" fill="#595959" text-anchor="middle">950</text>
<text x="360.3" y="370" font-family="'Liberation Serif', serif" font-size="8.7" fill="#595959" text-anchor="middle" textLength="60.6" lengthAdjust="spacingAndGlyphs">Wavelength [nm]</text>
<text transform="translate(248.3,280.8) rotate(-90)" font-family="'Liberation Serif', serif" font-size="9" fill="#595959" text-anchor="middle" textLength="64.3" lengthAdjust="spacingAndGlyphs">Absorbance [a.u.]</text>
<path d="M270.40,298.20 C272.08,298.82 276.80,300.82 280.50,301.90 C284.20,302.98 288.88,303.73 292.60,304.70 C296.32,305.67 299.93,307.10 302.80,307.70 C305.67,308.30 307.45,308.37 309.80,308.30 C312.15,308.23 314.37,308.03 316.90,307.30 C319.43,306.57 322.30,305.35 325.00,303.90 C327.70,302.45 330.60,300.05 333.10,298.60 C335.60,297.15 336.65,296.02 340.00,295.20 C343.35,294.38 348.78,294.62 353.20,293.70 C357.62,292.78 362.23,291.03 366.50,289.70 C370.77,288.37 373.82,287.25 378.80,285.70 C383.78,284.15 390.15,281.78 396.40,280.40 C402.65,279.02 410.22,278.18 416.30,277.40 C422.38,276.62 427.47,276.03 432.90,275.70 C438.33,275.37 446.23,275.45 448.90,275.40" fill="none" stroke="#1f70d4" stroke-width="4.1" stroke-linecap="round" stroke-linejoin="round"/>
<line x1="353.9" y1="232.6" x2="368.2" y2="232.6" stroke="#1a6ccc" stroke-width="1.4"/><circle cx="360.6" cy="232.6" r="1.8" fill="#1a6ccc"/>
<text x="369.2" y="235.6" font-family="'Liberation Serif', serif" font-size="9" fill="#595959" textLength="42.1" lengthAdjust="spacingAndGlyphs">Ni Particles</text>
<rect x="66.20" y="442.44" width="5.4" height="85.86" fill="#ff0000"/>
<rect x="66.20" y="471.92" width="5.4" height="56.38" fill="#0000ff"/>
<rect x="91.70" y="416.26" width="5.4" height="112.04" fill="#ff0000"/>
<rect x="91.70" y="421.69" width="5.4" height="106.61" fill="#0000ff"/>
<rect x="117.30" y="407.53" width="5.4" height="120.77" fill="#ff0000"/>
<rect x="117.30" y="411.63" width="5.4" height="116.67" fill="#0000ff"/>
<rect x="142.90" y="406.73" width="5.4" height="121.57" fill="#ff0000"/>
<rect x="142.90" y="411.72" width="5.4" height="116.58" fill="#0000ff"/>
<rect x="168.40" y="414.57" width="5.4" height="113.73" fill="#ff0000"/>
<rect x="168.40" y="431.85" width="5.4" height="96.45" fill="#0000ff"/>
<rect x="193.80" y="431.85" width="5.4" height="96.45" fill="#ff0000"/>
<rect x="193.80" y="453.58" width="5.4" height="74.72" fill="#0000ff"/>
<rect x="219.30" y="441.29" width="5.4" height="87.01" fill="#ff0000"/>
<rect x="219.30" y="465.15" width="5.4" height="63.15" fill="#0000ff"/>
<polyline points="68.90,442.44 94.40,416.26 120.00,407.53 145.60,406.73 171.10,414.57 196.50,431.85 222.00,441.29" fill="none" stroke="#ff6060" stroke-width="0.7"/>
<polyline points="68.90,471.92 94.40,421.69 120.00,411.63 145.60,411.72 171.10,431.85 196.50,453.58 222.00,465.15" fill="none" stroke="#7070ff" stroke-width="0.7"/>
<rect x="55.8" y="385.8" width="178.5" height="142.49999999999994" fill="none" stroke="#7a7a7a" stroke-width="0.7"/>
<line x1="55.8" y1="528.30" x2="57.599999999999994" y2="528.30" stroke="#7a7a7a" stroke-width="0.6"/>
<line x1="234.3" y1="528.30" x2="232.5" y2="528.30" stroke="#7a7a7a" stroke-width="0.6"/>
<text x="53.6" y="530.50" font-family="'Liberation Sans', sans-serif" font-size="5.7" fill="#444" text-anchor="end">0</text>
<line x1="55.8" y1="510.49" x2="57.599999999999994" y2="510.49" stroke="#7a7a7a" stroke-width="0.6"/>
<line x1="234.3" y1="510.49" x2="232.5" y2="510.49" stroke="#7a7a7a" stroke-width="0.6"/>
<text x="53.6" y="512.69" font-family="'Liberation Sans', sans-serif" font-size="5.7" fill="#444" text-anchor="end">2</text>
<line x1="55.8" y1="492.67" x2="57.599999999999994" y2="492.67" stroke="#7a7a7a" stroke-width="0.6"/>
<line x1="234.3" y1="492.67" x2="232.5" y2="492.67" stroke="#7a7a7a" stroke-width="0.6"/>
<text x="53.6" y="494.87" font-family="'Liberation Sans', sans-serif" font-size="5.7" fill="#444" text-anchor="end">4</text>
<line x1="55.8" y1="474.86" x2="57.599999999999994" y2="474.86" stroke="#7a7a7a" stroke-width="0.6"/>
<line x1="234.3" y1="474.86" x2="232.5" y2="474.86" stroke="#7a7a7a" stroke-width="0.6"/>
<text x="53.6" y="477.06" font-family="'Liberation Sans', sans-serif" font-size="5.7" fill="#444" text-anchor="end">6</text>
<line x1="55.8" y1="457.05" x2="57.599999999999994" y2="457.05" stroke="#7a7a7a" stroke-width="0.6"/>
<line x1="234.3" y1="457.05" x2="232.5" y2="457.05" stroke="#7a7a7a" stroke-width="0.6"/>
<text x="53.6" y="459.25" font-family="'Liberation Sans', sans-serif" font-size="5.7" fill="#444" text-anchor="end">8</text>
<line x1="55.8" y1="439.24" x2="57.599999999999994" y2="439.24" stroke="#7a7a7a" stroke-width="0.6"/>
<line x1="234.3" y1="439.24" x2="232.5" y2="439.24" stroke="#7a7a7a" stroke-width="0.6"/>
<text x="53.6" y="441.44" font-family="'Liberation Sans', sans-serif" font-size="5.7" fill="#444" text-anchor="end">10</text>
<line x1="55.8" y1="421.43" x2="57.599999999999994" y2="421.43" stroke="#7a7a7a" stroke-width="0.6"/>
<line x1="234.3" y1="421.43" x2="232.5" y2="421.43" stroke="#7a7a7a" stroke-width="0.6"/>
<text x="53.6" y="423.62" font-family="'Liberation Sans', sans-serif" font-size="5.7" fill="#444" text-anchor="end">12</text>
<line x1="55.8" y1="403.61" x2="57.599999999999994" y2="403.61" stroke="#7a7a7a" stroke-width="0.6"/>
<line x1="234.3" y1="403.61" x2="232.5" y2="403.61" stroke="#7a7a7a" stroke-width="0.6"/>
<text x="53.6" y="405.81" font-family="'Liberation Sans', sans-serif" font-size="5.7" fill="#444" text-anchor="end">14</text>
<line x1="55.8" y1="385.80" x2="57.599999999999994" y2="385.80" stroke="#7a7a7a" stroke-width="0.6"/>
<line x1="234.3" y1="385.80" x2="232.5" y2="385.80" stroke="#7a7a7a" stroke-width="0.6"/>
<text x="53.6" y="388.00" font-family="'Liberation Sans', sans-serif" font-size="5.7" fill="#444" text-anchor="end">16</text>
<line x1="68.9" y1="385.8" x2="68.9" y2="387.6" stroke="#7a7a7a" stroke-width="0.6"/>
<line x1="68.9" y1="528.3" x2="68.9" y2="526.5" stroke="#7a7a7a" stroke-width="0.6"/>
<text x="68.90" y="536.6" font-family="'Liberation Sans', sans-serif" font-size="5.8" fill="#444" text-anchor="middle">US</text>
<line x1="94.4" y1="385.8" x2="94.4" y2="387.6" stroke="#7a7a7a" stroke-width="0.6"/>
<line x1="94.4" y1="528.3" x2="94.4" y2="526.5" stroke="#7a7a7a" stroke-width="0.6"/>
<text x="96.40" y="536.6" font-family="'Liberation Sans', sans-serif" font-size="5.8" fill="#444" text-anchor="middle" textLength="20.9" lengthAdjust="spacingAndGlyphs">PA@680</text>
<line x1="120.0" y1="385.8" x2="120.0" y2="387.6" stroke="#7a7a7a" stroke-width="0.6"/>
<line x1="120.0" y1="528.3" x2="120.0" y2="526.5" stroke="#7a7a7a" stroke-width="0.6"/>
<text x="122.00" y="536.6" font-family="'Liberation Sans', sans-serif" font-size="5.8" fill="#444" text-anchor="middle" textLength="20.9" lengthAdjust="spacingAndGlyphs">PA@700</text>
<line x1="145.6" y1="385.8" x2="145.6" y2="387.6" stroke="#7a7a7a" stroke-width="0.6"/>
<line x1="145.6" y1="528.3" x2="145.6" y2="526.5" stroke="#7a7a7a" stroke-width="0.6"/>
<text x="147.60" y="536.6" font-family="'Liberation Sans', sans-serif" font-size="5.8" fill="#444" text-anchor="middle" textLength="20.9" lengthAdjust="spacingAndGlyphs">PA@730</text>
<line x1="171.1" y1="385.8" x2="171.1" y2="387.6" stroke="#7a7a7a" stroke-width="0.6"/>
<line x1="171.1" y1="528.3" x2="171.1" y2="526.5" stroke="#7a7a7a" stroke-width="0.6"/>
<text x="173.10" y="536.6" font-family="'Liberation Sans', sans-serif" font-size="5.8" fill="#444" text-anchor="middle" textLength="20.9" lengthAdjust="spacingAndGlyphs">PA@750</text>
<line x1="196.5" y1="385.8" x2="196.5" y2="387.6" stroke="#7a7a7a" stroke-width="0.6"/>
<line x1="196.5" y1="528.3" x2="196.5" y2="526.5" stroke="#7a7a7a" stroke-width="0.6"/>
<text x="198.50" y="536.6" font-family="'Liberation Sans', sans-serif" font-size="5.8" fill="#444" text-anchor="middle" textLength="20.9" lengthAdjust="spacingAndGlyphs">PA@780</text>
<line x1="222.0" y1="385.8" x2="222.0" y2="387.6" stroke="#7a7a7a" stroke-width="0.6"/>
<line x1="222.0" y1="528.3" x2="222.0" y2="526.5" stroke="#7a7a7a" stroke-width="0.6"/>
<text x="224.00" y="536.6" font-family="'Liberation Sans', sans-serif" font-size="5.8" fill="#444" text-anchor="middle" textLength="20.9" lengthAdjust="spacingAndGlyphs">PA@800</text>
<text x="139.2" y="544.6" font-family="'Liberation Sans', sans-serif" font-size="6.8" fill="#333" text-anchor="middle" textLength="37.8" lengthAdjust="spacingAndGlyphs">Imaging Mode</text>
<text transform="translate(45.2,457) rotate(-90)" font-family="'Liberation Sans', sans-serif" font-size="6.4" fill="#333" text-anchor="middle" textLength="9.9" lengthAdjust="spacingAndGlyphs">[dB]</text>
<rect x="201.4" y="390.7" width="28.4" height="15.1" fill="#fff" stroke="#999" stroke-width="0.6"/>
<rect x="203.0" y="393.0" width="12.8" height="4.4" fill="#ff0000"/>
<rect x="203.0" y="399.3" width="12.8" height="4.7" fill="#0000ff"/>
<text x="217.3" y="397.5" font-family="'Liberation Sans', sans-serif" font-size="5.4" fill="#444" textLength="10" lengthAdjust="spacingAndGlyphs">SNR</text>
<text x="217.3" y="403.9" font-family="'Liberation Sans', sans-serif" font-size="5.4" fill="#444" textLength="10" lengthAdjust="spacingAndGlyphs">CNR</text>
<text x="5" y="526.2" font-family="'Liberation Serif', serif" font-size="13" fill="#111">(j)</text>
<g clip-path="url(#cpk)"><g filter="url(#hotk)"><rect x="277.1" y="398.3" width="188.1" height="131.9" fill="#000"/>
<ellipse cx="362" cy="468" rx="16.2" ry="4.7" fill="url(#gb)" fill-opacity="0.5"/>
<ellipse cx="393" cy="448" rx="9.5" ry="5.4" fill="url(#gb)" fill-opacity="0.35"/>
<ellipse cx="391" cy="466" rx="6.8" ry="5.4" fill="url(#gb)" fill-opacity="0.3"/>
<ellipse cx="409" cy="464.5" rx="8.1" ry="5.4" fill="url(#gb)" fill-opacity="0.3"/>
<ellipse cx="402" cy="484" rx="6.1" ry="4.7" fill="url(#gb)" fill-opacity="0.45"/>
<ellipse cx="312" cy="471" rx="6.8" ry="6.8" fill="url(#gb)" fill-opacity="0.45"/>
<ellipse cx="333" cy="492" rx="5.4" ry="5.4" fill="url(#gb)" fill-opacity="0.3"/>
<ellipse cx="310" cy="491" rx="5.4" ry="5.4" fill="url(#gb)" fill-opacity="0.35"/>
<ellipse cx="322" cy="491" rx="10.8" ry="3.4" fill="url(#gb)" fill-opacity="0.15"/>
<ellipse cx="315" cy="454" rx="5.4" ry="6.8" fill="url(#gb)" fill-opacity="0.4"/>
<ellipse cx="296" cy="475" rx="4.1" ry="8.1" fill="url(#gb)" fill-opacity="0.08"/>
<ellipse cx="290" cy="432" rx="6.8" ry="5.4" fill="url(#gb)" fill-opacity="0.1"/>
<ellipse cx="300" cy="413" rx="5.4" ry="4.1" fill="url(#gb)" fill-opacity="0.1"/>
<ellipse cx="283" cy="483" rx="4.1" ry="4.1" fill="url(#gb)" fill-opacity="0.08"/>
<ellipse cx="425.7" cy="482" rx="5.4" ry="4.7" fill="url(#gb)" fill-opacity="0.25"/>
<ellipse cx="430" cy="468" rx="5.4" ry="4.7" fill="url(#gb)" fill-opacity="0.2"/>
<ellipse cx="440.2" cy="455" rx="5.4" ry="4.7" fill="url(#gb)" fill-opacity="0.2"/>
<ellipse cx="406" cy="478" rx="6.8" ry="5.4" fill="url(#gb)" fill-opacity="0.1"/>
<ellipse cx="315.2" cy="450.5" rx="5.2" ry="4.9" fill="url(#gb)" fill-opacity="0.74"/>
<ellipse cx="313.4" cy="469.6" rx="5.2" ry="4.9" fill="url(#gb)" fill-opacity="0.88"/>
<ellipse cx="310.3" cy="490.9" rx="5.2" ry="4.9" fill="url(#gb)" fill-opacity="0.60"/>
<ellipse cx="333.4" cy="491.5" rx="5.2" ry="4.9" fill="url(#gb)" fill-opacity="0.60"/>
<ellipse cx="356.1" cy="467.5" rx="5.2" ry="4.9" fill="url(#gb)" fill-opacity="0.92"/>
<ellipse cx="373.0" cy="467.2" rx="5.2" ry="4.9" fill="url(#gb)" fill-opacity="0.64"/>
<ellipse cx="389.3" cy="447.5" rx="5.2" ry="4.9" fill="url(#gb)" fill-opacity="0.60"/>
<ellipse cx="396.4" cy="469" rx="5.2" ry="4.9" fill="url(#gb)" fill-opacity="0.58"/>
<ellipse cx="413.4" cy="465.2" rx="5.2" ry="4.9" fill="url(#gb)" fill-opacity="0.58"/>
<ellipse cx="429.7" cy="466" rx="5.2" ry="4.9" fill="url(#gb)" fill-opacity="0.62"/>
<ellipse cx="425.7" cy="479.6" rx="5.2" ry="4.9" fill="url(#gb)" fill-opacity="0.60"/>
<ellipse cx="440.2" cy="453.4" rx="5.2" ry="4.9" fill="url(#gb)" fill-opacity="0.58"/>
</g></g>
<rect x="290.6" y="424.1" width="166.1" height="91.6" fill="none" stroke="#e8e800" stroke-width="1.8" stroke-dasharray="1.9 1.35"/>
<rect x="311.55" y="446.70" width="7.3" height="7.6" fill="none" stroke="#66dc5e" stroke-width="1.6" transform="rotate(-15 315.2 450.5)"/>
<rect x="309.75" y="465.80" width="7.3" height="7.6" fill="none" stroke="#66dc5e" stroke-width="1.6" transform="rotate(-8 313.4 469.6)"/>
<rect x="306.65" y="487.10" width="7.3" height="7.6" fill="none" stroke="#66dc5e" stroke-width="1.6" transform="rotate(-10 310.3 490.9)"/>
<rect x="329.75" y="487.70" width="7.3" height="7.6" fill="none" stroke="#66dc5e" stroke-width="1.6" transform="rotate(35 333.4 491.5)"/>
<rect x="352.45" y="463.70" width="7.3" height="7.6" fill="none" stroke="#66dc5e" stroke-width="1.6" transform="rotate(0 356.1 467.5)"/>
<rect x="369.35" y="463.40" width="7.3" height="7.6" fill="none" stroke="#66dc5e" stroke-width="1.6" transform="rotate(0 373.0 467.2)"/>
<rect x="385.65" y="443.70" width="7.3" height="7.6" fill="none" stroke="#66dc5e" stroke-width="1.6" transform="rotate(30 389.3 447.5)"/>
<rect x="392.75" y="465.20" width="7.3" height="7.6" fill="none" stroke="#66dc5e" stroke-width="1.6" transform="rotate(-8 396.4 469)"/>
<rect x="394.65" y="480.20" width="7.3" height="7.6" fill="none" stroke="#66dc5e" stroke-width="1.6" transform="rotate(0 398.3 484)"/>
<rect x="409.75" y="461.40" width="7.3" height="7.6" fill="none" stroke="#66dc5e" stroke-width="1.6" transform="rotate(0 413.4 465.2)"/>
<rect x="426.05" y="462.20" width="7.3" height="7.6" fill="none" stroke="#66dc5e" stroke-width="1.6" transform="rotate(-10 429.7 466)"/>
<rect x="422.05" y="475.80" width="7.3" height="7.6" fill="none" stroke="#66dc5e" stroke-width="1.6" transform="rotate(-10 425.7 479.6)"/>
<rect x="436.55" y="449.60" width="7.3" height="7.6" fill="none" stroke="#66dc5e" stroke-width="1.6" transform="rotate(0 440.2 453.4)"/>
<text x="378.6" y="411.3" font-family="'Liberation Sans', sans-serif" font-size="10" fill="#e4e43c" stroke="#e4e43c" stroke-width="0.3" textLength="82.4" lengthAdjust="spacingAndGlyphs">Background (Bkgnd)</text>
<text x="316.1" y="438.4" font-family="'Liberation Sans', sans-serif" font-size="10" fill="#5ccd5c" stroke="#5ccd5c" stroke-width="0.3" textLength="50.1" lengthAdjust="spacingAndGlyphs">Object (Obj)</text>
<line x1="444.3" y1="416.6" x2="434.6" y2="427.3" stroke="#f2f000" stroke-width="2.1" stroke-linecap="round"/>
<polygon points="430.3,432.3 432.1,425.4 437.9,429.7" fill="#f2f000"/>
<line x1="331.1" y1="444.2" x2="325.2" y2="446.9" stroke="#5cc852" stroke-width="2.1" stroke-linecap="round"/>
<polygon points="320.1,449.1 323.7,443.8 327.0,450.1" fill="#5cc852"/>
<text x="256.2" y="526.4" font-family="'Liberation Serif', serif" font-size="13" fill="#111">(k)</text>
</svg></body></html>
